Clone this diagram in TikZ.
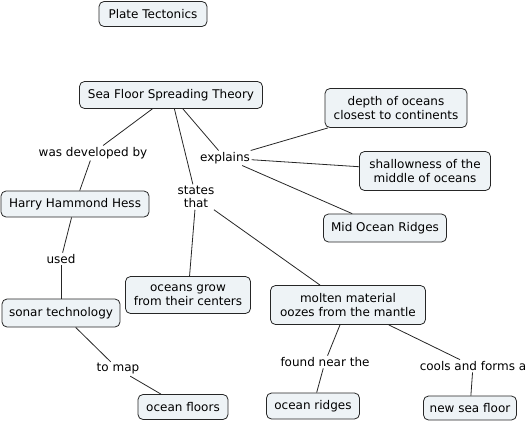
\documentclass[tikz,border=0pt]{standalone}
\usepackage{fontspec}
\setmainfont{DejaVu Sans}
\definecolor{boxfill}{RGB}{238,243,246}
\begin{document}
\begin{tikzpicture}[x=1pt,y=-1pt,
  concept/.style={draw=black!85, fill=boxfill, rounded corners=5pt, line width=0.8pt,
    align=center, inner sep=0pt, font=\fontsize{12}{14.5}\selectfont},
  lnk/.style={align=center, inner sep=1.5pt, font=\fontsize{12}{13.5}\selectfont},
  conn/.style={line width=0.8pt, draw=black!85}]
\useasboundingbox (0,0) rectangle (530,423);
% concepts
\node[concept, minimum width=108pt, minimum height=25pt] (pt) at (153,14) {Plate Tectonics};
\node[concept, minimum width=183pt, minimum height=27pt] (sfst) at (171,95) {Sea Floor Spreading Theory};
\node[concept, minimum width=142pt, minimum height=39pt] (depth) at (396,108) {depth of oceans\\closest to continents};
\node[concept, minimum width=131pt, minimum height=39pt] (shal) at (425,171) {shallowness of the\\middle of oceans};
\node[concept, minimum width=123pt, minimum height=28pt] (mor) at (385,228) {Mid Ocean Ridges};
\node[concept, minimum width=148pt, minimum height=26pt] (hhh) at (75,204) {Harry Hammond Hess};
\node[concept, minimum width=118pt, minimum height=28pt] (sonar) at (61,313) {sonar technology};
\node[concept, minimum width=125pt, minimum height=37pt] (grow) at (188,295) {oceans grow\\from their centers};
\node[concept, minimum width=90pt, minimum height=25pt] (floors) at (183,407) {ocean floors};
\node[concept, minimum width=155pt, minimum height=39pt] (molten) at (348,305) {molten material\\oozes from the mantle};
\node[concept, minimum width=93pt, minimum height=26pt] (ridges) at (313,406) {ocean ridges};
\node[concept, minimum width=93pt, minimum height=24pt] (newsf) at (470,408) {new sea floor};
% linking phrases
\node[lnk] (wdb) at (93,153) {was developed by};
\node[lnk] (expl) at (225,158) {explains};
\node[lnk] (st) at (196,197) {states\\that};
\node[lnk] (used) at (61,259) {used};
\node[lnk] (tomap) at (118,369) {to map};
\node[lnk] (fnt) at (325,362) {found near the};
\node[lnk] (cfa) at (473,366) {cools and forms a};
% connectors
\draw[conn] (sfst) -- (wdb);
\draw[conn] (wdb) -- (hhh);
\draw[conn] (sfst) -- (expl);
\draw[conn] (expl) -- (depth);
\draw[conn] (expl) -- (shal);
\draw[conn] (expl) -- (mor);
\draw[conn] (sfst) -- (st);
\draw[conn] (st) -- (grow);
\draw[conn] (st) -- (molten);
\draw[conn] (hhh) -- (used);
\draw[conn] (used) -- (sonar);
\draw[conn] (sonar) -- (tomap);
\draw[conn] (tomap) -- (floors);
\draw[conn] (molten) -- (fnt);
\draw[conn] (fnt) -- (ridges);
\draw[conn] (molten) -- (cfa);
\draw[conn] (cfa) -- (newsf);
\end{tikzpicture}
\end{document}
